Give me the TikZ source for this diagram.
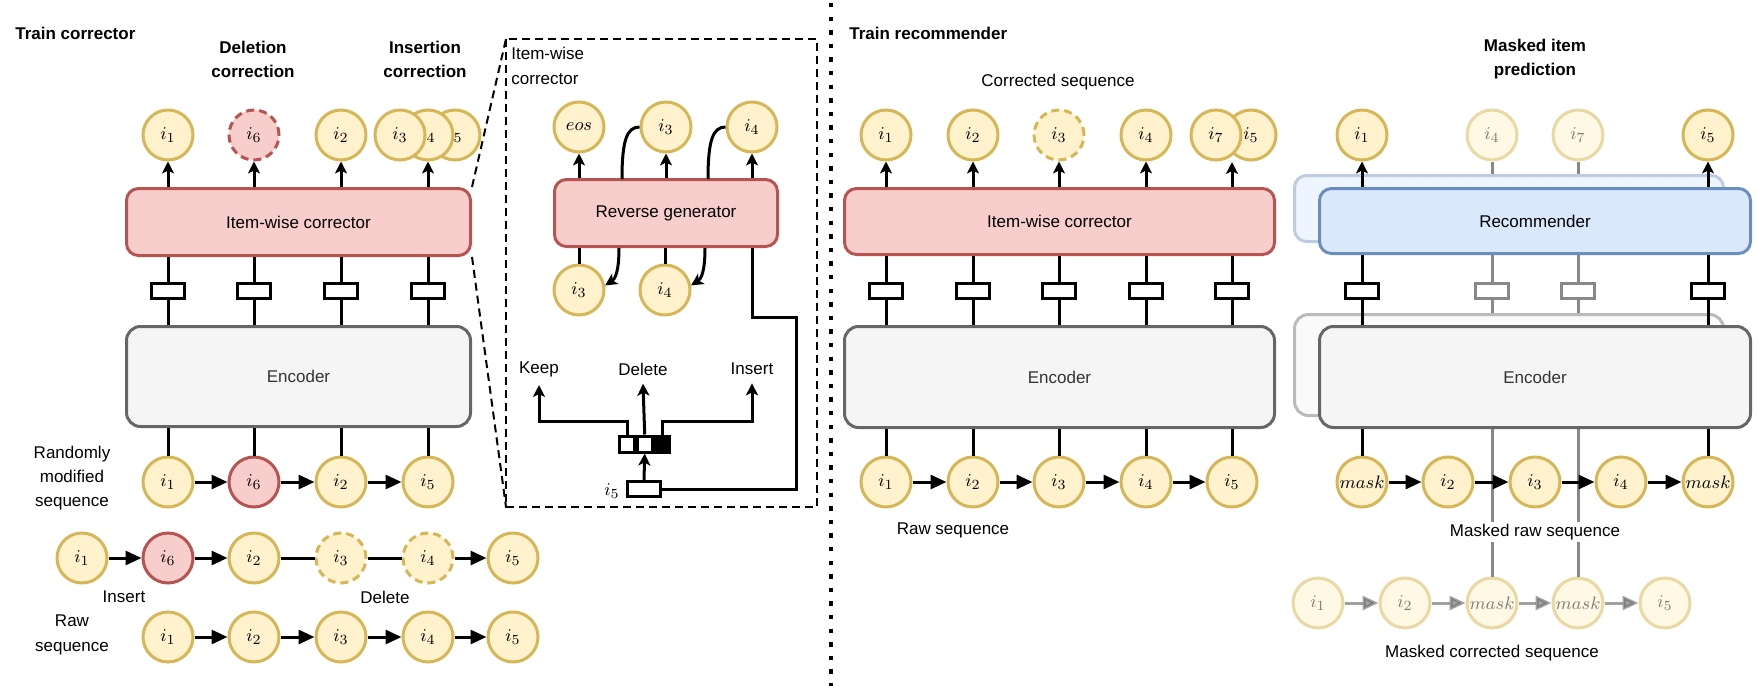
\documentclass[tikz,border=0pt]{standalone}
\usepackage{fontspec}
\setmainfont{Liberation Sans}
\usetikzlibrary{arrows.meta}
\definecolor{yfill}{HTML}{FFF2CC}
\definecolor{ydraw}{HTML}{D6B656}
\definecolor{rfill}{HTML}{F8CECC}
\definecolor{rdraw}{HTML}{B85450}
\definecolor{bfill}{HTML}{DAE8FC}
\definecolor{bdraw}{HTML}{6C8EBF}
\definecolor{gfill}{HTML}{F5F5F5}
\definecolor{gdraw}{HTML}{666666}
\definecolor{gtext}{HTML}{333333}
\definecolor{lgrey}{HTML}{888888}
\tikzset{
  item/.style={circle, draw=ydraw, fill=yfill, line width=1.5pt, minimum size=25pt, inner sep=0pt, font=\fontsize{9.5}{11}\selectfont},
  reditem/.style={item, draw=rdraw, fill=rfill},
  dashitem/.style={dash pattern=on 4pt off 2.5pt},
  fitem/.style={item, opacity=0.5},
  sbox/.style={draw=black, fill=white, line width=1.5pt, minimum width=16.5pt, minimum height=7.5pt, inner sep=0pt},
  gsbox/.style={sbox, draw=lgrey},
  sqbox/.style={draw=black, fill=white, line width=1.5pt, minimum width=7.4pt, minimum height=8pt, inner sep=0pt},
  wire/.style={line width=1.5pt, draw=black},
  gwire/.style={line width=1.5pt, draw=lgrey},
  uarr/.style={wire, -{Stealth[length=6pt,width=6pt,inset=1.5pt]}},
  sarr/.style={wire, -{Triangle[length=8pt,width=7pt]}},
  garr/.style={line width=1.5pt, draw=gdraw, fill=gdraw, -{Triangle[length=8pt,width=7pt]}, opacity=0.6},
  lbl/.style={font=\fontsize{8.5}{12.2}\selectfont, align=center, inner sep=1pt},
  blbl/.style={lbl, font=\fontsize{8.5}{12}\selectfont\bfseries},
  bglbl/.style={lbl, fill=white},
  corrbox/.style={draw=rdraw, fill=rfill, line width=1.5pt, rounded corners=6pt, font=\fontsize{8.5}{10}\selectfont},
  encbox/.style={draw=gdraw, fill=gfill, line width=1.5pt, rounded corners=7pt, text=gtext, font=\fontsize{8.5}{10}\selectfont},
  recbox/.style={draw=bdraw, fill=bfill, line width=1.5pt, rounded corners=6pt, font=\fontsize{8.5}{10}\selectfont},
  dline/.style={line width=1pt, dash pattern=on 4pt off 2.5pt},
}
\begin{document}
\begin{tikzpicture}[x=0.5pt,y=-0.5pt]
\useasboundingbox (0,0) rectangle (1758,686);

% ================= LEFT: Train corrector =================
\node[blbl, anchor=west] (tTC) at (13,33) {Train corrector};
\node[blbl] (tDel) at (253,59) {Deletion\\correction};
\node[blbl] (tIns) at (425,59) {Insertion\\correction};

\node[item] (a1) at (168,135) {$i_1$};
\node[reditem, dashitem] (a6) at (254,135) {$i_6$};
\node[item] (a2) at (341,135) {$i_2$};
\node[item] (a5) at (455,135) {$i_5$};
\node[item] (a4) at (428,135) {$i_4$};
\node[item] (a3) at (400,135) {$i_3$};

\node[corrbox, minimum width=172pt, minimum height=33.5pt] (corrL) at (298.5,222) {Item-wise corrector};
\node[encbox, minimum width=172pt, minimum height=50pt] (encL) at (298.5,376.5) {Encoder};

\foreach \i/\x in {1/168,2/254,3/341,4/428} {
  \node[sbox] (rL\i) at (\x,291) {};
  \draw[wire] (encL.north -| rL\i) -- (rL\i.south);
  \draw[wire] (rL\i.north) -- (corrL.south -| rL\i);
}
\foreach \n in {a1,a6,a2,a4} \draw[uarr] (corrL.north -| \n) -- (\n);

% randomly modified sequence
\node[lbl] (lRand) at (72,478) {Randomly\\modified\\sequence};
\node[item] (m1) at (168,482) {$i_1$};
\node[reditem] (m6) at (254,482) {$i_6$};
\node[item] (m2) at (341,482) {$i_2$};
\node[item] (m5) at (428,482) {$i_5$};
\foreach \n in {m1,m6,m2,m5} \draw[wire] (encL.south -| \n) -- (\n);
\draw[sarr] (m1) -- (m6);
\draw[sarr] (m6) -- (m2);
\draw[sarr] (m2) -- (m5);

% edit row
\node[item] (b1) at (82,558) {$i_1$};
\node[reditem] (b6) at (168,558) {$i_6$};
\node[item] (b2) at (254,558) {$i_2$};
\node[item, dashitem] (b3) at (341,558) {$i_3$};
\node[item, dashitem] (b4) at (428,558) {$i_4$};
\node[item] (b5) at (513,558) {$i_5$};
\draw[sarr] (b1) -- (b6);
\draw[sarr] (b6) -- (b2);
\draw[wire] (b2) -- (b3);
\draw[wire] (b3) -- (b4);
\draw[sarr] (b4) -- (b5);
\node[lbl] (lInsert) at (124,597) {Insert};
\node[lbl] (lDelete) at (385,597) {Delete};

% raw sequence
\node[lbl] (lRaw) at (72,635) {Raw\\sequence};
\node[item] (c1) at (168,637) {$i_1$};
\node[item] (c2) at (254,637) {$i_2$};
\node[item] (c3) at (341,637) {$i_3$};
\node[item] (c4) at (428,637) {$i_4$};
\node[item] (c5) at (513,637) {$i_5$};
\draw[sarr] (c1) -- (c2);
\draw[sarr] (c2) -- (c3);
\draw[sarr] (c3) -- (c4);
\draw[sarr] (c4) -- (c5);

% ================= INSET =================
\coordinate (bxTL) at (506,39);
\coordinate (bxBL) at (506,507);
\draw[dline] (bxTL) rectangle (817,507);
\draw[dline] (corrL.north east) -- (bxTL);
\draw[dline] (corrL.south east) -- (bxBL);
\node[lbl, align=left, anchor=west] (lIW) at (509,66) {Item-wise\\corrector};

\node[item] (e0) at (579,127) {$eos$};
\node[item] (t3) at (666,127) {$i_3$};
\node[item] (t4) at (752,127) {$i_4$};
\node[corrbox, minimum width=111.5pt, minimum height=33.5pt] (gen) at (666,213) {Reverse generator};
\node[item] (u3) at (579,290) {$i_3$};
\node[item] (u4) at (665,290) {$i_4$};
\foreach \n in {e0,t3,t4} \draw[uarr] (gen.north -| \n) -- (\n);
\draw[wire] (u3) -- (gen.south -| u3);
\draw[wire] (u4) -- (gen.south -| u4);
\coordinate (g3a) at (622,179);
\coordinate (g3b) at (619,248);
\coordinate (g4a) at (708,179);
\coordinate (g4b) at (705,248);
\draw[wire] (g3a) .. controls (622,140) and (627,127) .. (t3.west);
\draw[wire] (g4a) .. controls (708,140) and (713,127) .. (t4.west);
\draw[uarr] (g3b) .. controls (619,272) and (615,279) .. (u3.10);
\draw[uarr] (g4b) .. controls (705,272) and (701,279) .. (u4.10);

\node[lbl] (kKeep) at (539,369) {Keep};
\node[lbl] (kDel) at (643,369) {Delete};
\node[lbl] (kIns) at (752,369) {Insert};
\node[sqbox] (s1) at (627,444) {};
\node[sqbox] (s2) at (644.7,444) {};
\node[sqbox, fill=black] (s3) at (662.4,444) {};
\draw[uarr] (s1.north) -- ++(0,-13) -| ([yshift=-3pt]kKeep.south);
\draw[uarr] (s2.north) -- ([yshift=-3pt]kDel.south);
\draw[uarr] (s3.north) -- ++(0,-13) -| ([yshift=-3pt]kIns.south);
\node[sbox] (q5) at (644,489) {};
\node[lbl, anchor=east] (q5l) at (622,491) {\fontsize{9.5}{11}\selectfont$i_5$};
\draw[uarr] (q5.north) -- (s2.south);
\draw[wire] (gen.south -| t4) -- (752,317) -- (796,317) -- (796,489) -- (q5.east);

% divider
\draw[line width=2.2pt, dash pattern=on 2.2pt off 4.6pt] (831,3) -- (831,686);

% ================= RIGHT: Train recommender =================
\node[blbl, anchor=west] (tTR) at (847,33) {Train recommender};
\node[bglbl] (lCorr) at (1058,82) {Corrected sequence};
\node[item] (d1) at (886,135) {$i_1$};
\node[item] (d2) at (973,135) {$i_2$};
\node[item, dashitem] (d3) at (1059,135) {$i_3$};
\node[item] (d4) at (1146,135) {$i_4$};
\node[item] (d5) at (1251,135) {$i_5$};
\node[item] (d7) at (1216,135) {$i_7$};
\coordinate (d57) at (1232,162);

\node[corrbox, minimum width=215pt, minimum height=33pt] (corrR) at (1059.5,221.5) {Item-wise corrector};
\node[encbox, minimum width=215pt, minimum height=50.5pt] (encR) at (1059.5,377) {Encoder};
\foreach \i/\x in {1/886,2/973,3/1059,4/1146,5/1232} {
  \node[sbox] (rR\i) at (\x,291) {};
  \draw[wire] (encR.north -| rR\i) -- (rR\i.south);
  \draw[wire] (rR\i.north) -- (corrR.south -| rR\i);
}
\foreach \n in {d1,d2,d3,d4,d57} \draw[uarr] (corrR.north -| \n) -- (\n);

\node[item] (e1) at (886,482) {$i_1$};
\node[item] (e2) at (973,482) {$i_2$};
\node[item] (e3) at (1059,482) {$i_3$};
\node[item] (e4) at (1146,482) {$i_4$};
\node[item] (e5) at (1232,482) {$i_5$};
\foreach \n in {e1,e2,e3,e4,e5} \draw[wire] (encR.south -| \n) -- (\n);
\draw[sarr] (e1) -- (e2);
\draw[sarr] (e2) -- (e3);
\draw[sarr] (e3) -- (e4);
\draw[sarr] (e4) -- (e5);
\node[lbl] (lRawR) at (953,530) {Raw sequence};

% masked item prediction
\node[blbl] (tMIP) at (1535,59) {Masked item\\prediction};
\node[item] (g1) at (1362,135) {$i_1$};
\node[fitem] (f4) at (1492,135) {$i_4$};
\node[fitem] (f7) at (1578,135) {$i_7$};
\node[item] (g5) at (1708,135) {$i_5$};

\node[fitem] (k1) at (1318,603) {$i_1$};
\node[fitem] (k2) at (1405,603) {$i_2$};
\node[fitem] (k3) at (1492,603) {$mask$};
\node[fitem] (k4) at (1578,603) {$mask$};
\node[fitem] (k5) at (1665,603) {$i_5$};
\draw[garr] (k1) -- (k2);
\draw[garr] (k2) -- (k3);
\draw[garr] (k3) -- (k4);
\draw[garr] (k4) -- (k5);

\draw[gwire] (k3) -- (f4);
\draw[gwire] (k4) -- (f7);
\node[gsbox] (rM2) at (1492,291) {};
\node[gsbox] (rM3) at (1578,291) {};

\node[recbox, draw=bdraw!45, fill=bfill!45, minimum width=214.5pt, minimum height=33pt] (recB) at (1509,208.5) {};
\node[encbox, draw=gdraw!45, fill=gfill!45, minimum width=214.5pt, minimum height=50.5pt] (encB) at (1509,365) {};
\node[recbox, minimum width=215.5pt, minimum height=32.5pt] (recF) at (1535,221) {Recommender};
\node[encbox, minimum width=215.5pt, minimum height=50.5pt] (encF) at (1535,377) {Encoder};

\node[sbox] (rM1) at (1362,291) {};
\node[sbox] (rM4) at (1708,291) {};
\foreach \r in {rM1,rM4} {
  \draw[wire] (encF.north -| \r) -- (\r.south);
  \draw[wire] (\r.north) -- (recF.south -| \r);
}
\draw[uarr] (recF.north -| g1) -- (g1);
\draw[uarr] (recF.north -| g5) -- (g5);

\node[item] (h1) at (1362,482) {$mask$};
\node[item] (h2) at (1448,482) {$i_2$};
\node[item] (h3) at (1535,482) {$i_3$};
\node[item] (h4) at (1621,482) {$i_4$};
\node[item] (h5) at (1708,482) {$mask$};
\draw[wire] (encF.south -| h1) -- (h1);
\draw[wire] (encF.south -| h5) -- (h5);
\draw[sarr] (h1) -- (h2);
\draw[sarr] (h2) -- (h3);
\draw[sarr] (h3) -- (h4);
\draw[sarr] (h4) -- (h5);
\node[bglbl] (lMRaw) at (1535,532) {Masked raw sequence};
\node[bglbl] (lMCor) at (1492,653) {Masked corrected sequence};
\end{tikzpicture}
\end{document}
